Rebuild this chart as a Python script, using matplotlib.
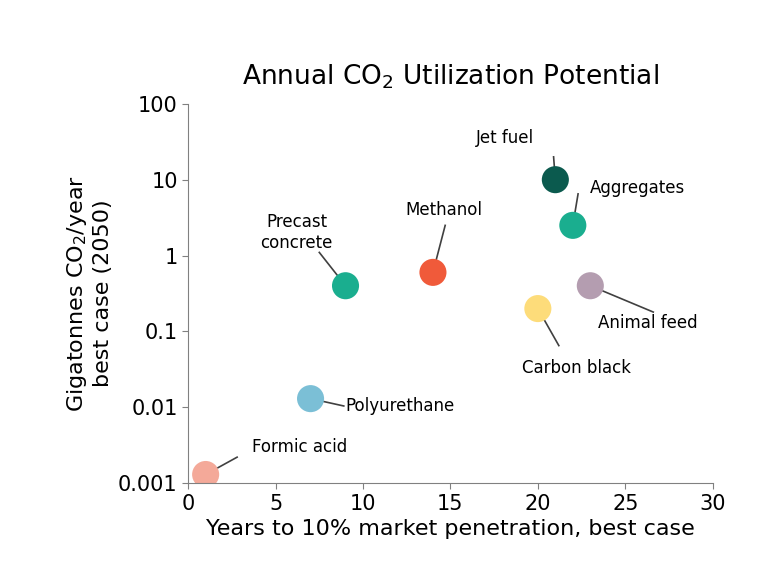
import matplotlib
matplotlib.use("Agg")
import matplotlib.pyplot as plt
from matplotlib.ticker import FixedLocator, FixedFormatter

names = ["Formic acid", "Polyurethane", "Precast\nconcrete", "Methanol", "Jet fuel", "Aggregates", "Carbon black", "Animal feed"]
years = [1, 7, 9, 14, 21, 22, 20, 23]
gt = [0.0013, 0.013, 0.4, 0.6, 10, 2.5, 0.2, 0.4]
colors = ["#F4A999", "#7BBFD6", "#1AAE8F", "#F05A3A", "#0B5A4E", "#1AAE8F", "#FDDC7A", "#B49DB0"]
# label text positions (data coords) and alignment
text_xy = [(6.4, 0.003), (9.0, 0.0104), (6.2, 2.0), (14.6, 4.0), (18.1, 35), (23.0, 7.8), (22.2, 0.033), (26.3, 0.13)]
ha = ["center", "left", "center", "center", "center", "left", "center", "center"]
# leader line start points (data coords)
line_start = [(2.8, 0.0022), (8.9, 0.0104), (7.5, 1.1), (14.7, 2.5), (20.9, 20), (22.3, 6.5), (21.2, 0.065), (26.6, 0.18)]

fig = plt.figure(figsize=(7.68, 5.8), dpi=100)
ax = fig.add_axes([0.245, 0.167, 0.683, 0.654])
ax.set_yscale("log")
ax.set_xlim(0, 30)
ax.set_ylim(0.001, 100)

for i in range(len(names)):
    ax.plot([line_start[i][0], years[i]], [line_start[i][1], gt[i]], color="#404040", lw=1.2, zorder=1)
    ax.scatter(years[i], gt[i], s=380, color=colors[i], zorder=2, edgecolors="none")
    ax.text(text_xy[i][0], text_xy[i][1], names[i], ha=ha[i], va="center", fontsize=12)

yt = [0.001, 0.01, 0.1, 1, 10, 100]
ax.yaxis.set_major_locator(FixedLocator(yt))
ax.yaxis.set_major_formatter(FixedFormatter(["0.001", "0.01", "0.1", "1", "10", "100"]))
ax.yaxis.set_minor_locator(FixedLocator([]))
ax.set_xticks([0, 5, 10, 15, 20, 25, 30])
ax.tick_params(labelsize=15, color="#808080", length=4)
for s in ["top", "right"]:
    ax.spines[s].set_visible(False)
for s in ["left", "bottom"]:
    ax.spines[s].set_color("#808080")

ax.set_xlabel("Years to 10% market penetration, best case", fontsize=16)
ax.set_ylabel("Gigatonnes CO$_2$/year\nbest case (2050)", fontsize=16)
ax.set_title("Annual CO$_2$ Utilization Potential", fontsize=19, pad=14)

fig.savefig("out.png")
